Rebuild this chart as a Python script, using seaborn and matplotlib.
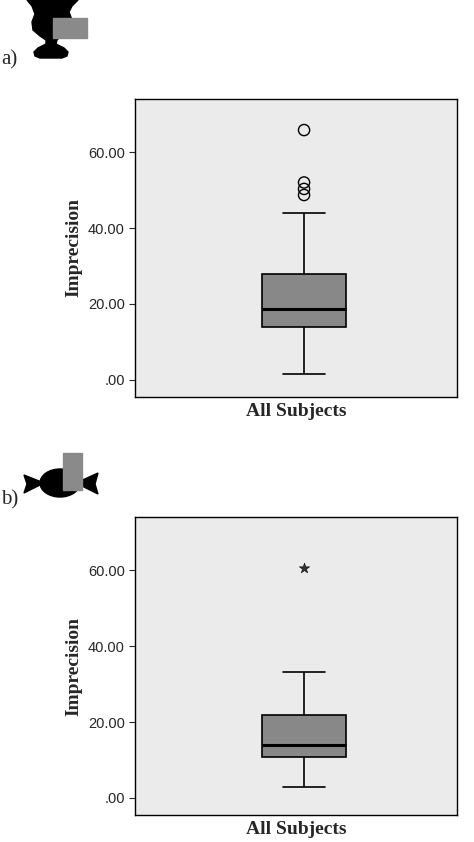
import matplotlib
matplotlib.use("Agg")
import matplotlib.pyplot as plt
import numpy as np
import pandas as pd
import seaborn as sns
from matplotlib.patches import Polygon, Rectangle, Ellipse

# box data (min, Q1, median, Q3, max) and outliers
box_a = [1.5, 14.0, 18.7, 27.9, 44.0]
out_a = [48.7, 50.3, 52.0, 65.8]
box_b = [2.9, 10.8, 14.0, 21.8, 33.2]
out_b = [60.5]
yticks = [0, 20, 40, 60]

sns.set_style("white")
fig = plt.figure(figsize=(4.74, 8.42), dpi=100)

# icons drawn in pixel coordinates
deco = fig.add_axes([0, 0, 1, 1])
deco.set_xlim(0, 474)
deco.set_ylim(842, 0)
deco.axis("off")
vase = [(27, 0), (78, 0), (72, 6), (69, 12), (72, 20), (70, 28), (62, 35), (57, 40),
        (56, 44), (64, 48), (68, 52), (67, 56), (62, 58), (40, 58), (35, 56), (34, 52),
        (38, 48), (46, 44), (46, 40), (40, 36), (33, 30), (32, 22), (35, 14), (32, 6)]
deco.add_patch(Polygon(vase, closed=True, color="black"))
deco.add_patch(Rectangle((53, 18), 34, 20, color="#8a8a8a"))
deco.add_patch(Ellipse((60, 483), 40, 28, color="black"))
deco.add_patch(Polygon([(24, 475), (44, 483), (24, 493), (27, 484)], color="black"))
deco.add_patch(Polygon([(98, 473), (76, 483), (98, 494), (95, 484)], color="black"))
deco.add_patch(Rectangle((63, 453), 19, 37, color="#8a8a8a"))
fig.text(0.003, 1 - 60 / 842, "a)", fontsize=15, family="Liberation Serif", va="center")
fig.text(0.003, 1 - 500 / 842, "b)", fontsize=15, family="Liberation Serif", va="center")


def panel(rect, box, outliers, marker, msize):
    ax = fig.add_axes(rect)
    ax.set_facecolor("#ebebeb")
    df = pd.DataFrame({"g": ["All Subjects"] * len(box), "v": box})
    sns.boxplot(data=df, x="g", y="v", ax=ax, whis=(0, 100), width=0.26,
                color="#888888", linecolor="black", linewidth=1.2, saturation=1,
                medianprops={"linewidth": 2.2}, showfliers=False)
    od = pd.DataFrame({"g": ["All Subjects"] * len(outliers), "v": outliers})
    sns.scatterplot(data=od, x="g", y="v", ax=ax, marker=marker, s=msize,
                    facecolor="none" if marker == "o" else "#333333",
                    edgecolor="black", linewidth=1.0 if marker == "o" else 0.4, zorder=5)
    ax.set_xlim(-0.525, 0.475)
    ax.set_ylim(-4.5, 74)
    ax.set_yticks(yticks)
    ax.set_yticklabels([".00" if t == 0 else f"{t:.2f}" for t in yticks],
                       family="Liberation Sans", fontsize=10.5)
    ax.tick_params(axis="y", left=True, length=4, direction="out")
    ax.set_xticks([])
    ax.set_xlabel("All Subjects", family="Liberation Serif", fontweight="bold", fontsize=14)
    ax.set_ylabel("Imprecision", family="Liberation Serif", fontweight="bold", fontsize=14)
    for s in ax.spines.values():
        s.set_color("black")
        s.set_linewidth(1.0)
    return ax


panel([0.285, 0.5285, 0.679, 0.354], box_a, out_a, "o", 65)
panel([0.285, 0.032, 0.679, 0.354], box_b, out_b, "*", 60)

fig.savefig("out.png", dpi=100)
